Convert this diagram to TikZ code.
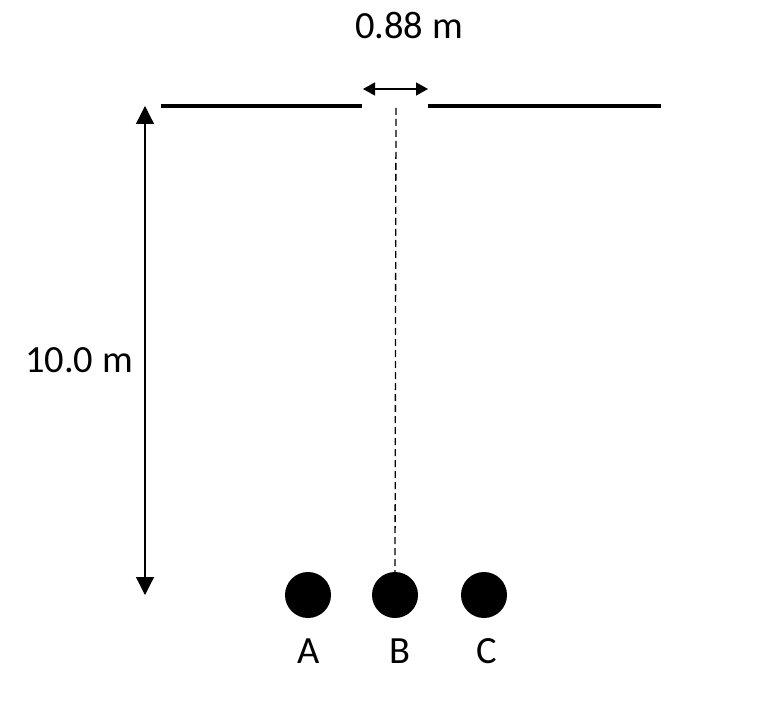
\documentclass[tikz,border=0pt]{standalone}
\usepackage{fontspec}
\setmainfont{Carlito}
\usetikzlibrary{arrows.meta}
\begin{document}
\begin{tikzpicture}[x=1pt,y=-1pt,
  lbl/.style={inner sep=0pt,anchor=base,font=\fontsize{38.5}{46}\selectfont},
  wall/.style={line width=4.5pt},
  ball/.style={circle,fill=black,minimum size=46pt,inner sep=0pt},
  dim/.style={line width=1.3pt,{Triangle[length=18pt,width=18pt]}-{Triangle[length=18pt,width=18pt]}},
  sdim/.style={line width=1.3pt,{Triangle[length=12pt,width=13pt]}-{Triangle[length=12pt,width=13pt]}}]
\useasboundingbox (0,0) rectangle (776,711);
\coordinate (wl1) at (161,106);
\coordinate (wl2) at (362,106);
\coordinate (wr1) at (428,106);
\coordinate (wr2) at (661,106);
\draw[wall] (wl1) -- (wl2);
\draw[wall] (wr1) -- (wr2);
\coordinate (s1) at (363,89);
\coordinate (s2) at (428,89);
\draw[sdim] (s1) -- (s2);
\node[lbl] (w) at (409,39) {0.88 m};
\coordinate (v1) at (145,106);
\coordinate (v2) at (145,595);
\draw[dim] (v1) -- (v2);
\node[lbl] (h) at (79,372) {10.0 m};
\node[ball] (A) at (308,595) {};
\node[ball] (B) at (395,595) {};
\node[ball] (C) at (484,595) {};
\coordinate (d1) at (396,108);
\draw[line width=1.3pt,dash pattern=on 7pt off 4pt] (d1) -- (B.north);
\node[lbl] (la) at (309,663) {A};
\node[lbl] (lb) at (400,663) {B};
\node[lbl] (lc) at (487,663) {C};
\end{tikzpicture}
\end{document}
